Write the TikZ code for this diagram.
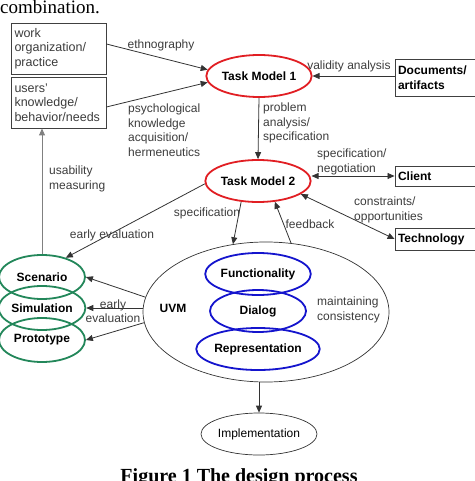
\documentclass[tikz,border=0pt]{standalone}
\usepackage{fontspec}
\setmainfont{Liberation Sans}
\newfontfamily\serifcap{Liberation Serif}
\usetikzlibrary{arrows.meta,shapes.geometric}
\definecolor{tmred}{RGB}{225,30,35}
\definecolor{uvblue}{RGB}{20,20,205}
\definecolor{scgreen}{RGB}{35,135,90}
\definecolor{lblgray}{RGB}{60,60,60}
\tikzset{
  lbl/.style={font=\fontsize{12}{14.5}\selectfont, text=lblgray, align=left, inner sep=0pt},
  boxnode/.style={draw=black!75, line width=0.9pt, inner xsep=3.5pt, inner ysep=0pt, align=left, font=\fontsize{12.5}{14.5}\selectfont, text=lblgray},
  bbox/.style={draw=black!75, line width=0.9pt, inner xsep=3pt, inner ysep=0pt, align=left, font=\bfseries\fontsize{12}{15}\selectfont},
  redell/.style={ellipse, draw=tmred, line width=1.8pt, minimum width=86pt, minimum height=42pt, inner sep=0pt, font=\bfseries\fontsize{12}{14}\selectfont},
  blueell/.style={ellipse, draw=uvblue, line width=1.8pt, minimum width=96pt, minimum height=42pt, inner sep=0pt, font=\bfseries\fontsize{12}{14}\selectfont},
  greenell/.style={ellipse, draw=scgreen, line width=1.8pt, minimum width=86pt, minimum height=44pt, inner sep=0pt, font=\bfseries\fontsize{12}{14}\selectfont},
  plainell/.style={ellipse, draw=black!80, line width=0.7pt, inner sep=0pt},
  arr/.style={draw=black!80, line width=0.8pt, -{Triangle[length=7pt,width=6pt]}},
  darr/.style={draw=black!80, line width=0.8pt, {Triangle[length=7pt,width=6pt]}-{Triangle[length=7pt,width=6pt]}},
}
\begin{document}
\begin{tikzpicture}[x=1pt,y=-1pt]
\useasboundingbox (0,0) rectangle (474,481);
% stray text
\node[anchor=base west, inner sep=0pt, font=\serifcap\fontsize{19}{19}\selectfont] (topt) at (0,14) {combination.};
\node[anchor=base, inner sep=0pt, font=\serifcap\bfseries\fontsize{20}{20}\selectfont] (cap) at (239,482) {Figure 1 The design process};
% boxes
\node[boxnode, minimum width=95pt, minimum height=51pt, text width=88pt] (work) at (58.5,48.5) {work\\organization/\\practice};
\node[boxnode, minimum width=95pt, minimum height=51pt, text width=88pt] (users) at (58.5,102.5) {users'\\knowledge/\\behavior/needs};
\node[bbox, minimum width=80pt, minimum height=37pt, text width=74pt] (docs) at (435,78) {Documents/\\artifacts};
\node[bbox, minimum width=80pt, minimum height=20pt, text width=74pt] (client) at (435,176) {Client};
\node[bbox, minimum width=80pt, minimum height=22pt, text width=74pt] (tech) at (435,239) {Technology};
% ellipses
\node[redell] (tm1) at (259,76) {Task Model 1};
\node[redell] (tm2) at (258,181) {Task Model 2};
\node[plainell, minimum width=246pt, minimum height=140pt] (uvm) at (266,312) {};
\node[font=\bfseries\fontsize{12}{14}\selectfont, inner sep=0pt] (uvml) at (173,308) {UVM};
\node[blueell] (func) at (258,274) {Functionality};
\node[blueell] (dial) at (258,311) {Dialog};
\node[blueell] (repr) at (258,349) {Representation};
\node[greenell] (scen) at (42,277) {Scenario};
\node[greenell] (sim) at (42,308) {Simulation};
\node[greenell] (proto) at (42,340) {Prototype};
\node[plainell, minimum width=100pt, minimum height=42pt, font=\fontsize{12}{14}\selectfont] (impl) at (259,434) {Implementation};
% connectors
\draw[arr] ([yshift=4.5pt]work.east) -- (tm1.173);
\draw[arr] ([yshift=-4.5pt]users.east) -- (tm1.187);
\draw[arr] (docs.west |- tm1.east) -- (tm1.east);
\draw[arr] (tm1.south) -- (tm2.north);
\draw[darr] (tm2.east |- client.west) -- (client.west);
\draw[darr] (tm2.-17) -- (tech.west);
\draw[arr] (tm2.-129) -- (uvm.116);
\draw[arr] (uvm.70) -- (tm2.-51);
\draw[arr] (tm2.183) -- (scen.39);
\draw[arr] (uvm.173) -- (scen.east);
\draw[arr] (uvm.west |- sim.east) -- (sim.east);
\draw[arr] (uvm.185) -- (proto.east);
\draw[draw=black!50, line width=0.9pt, -{Triangle[length=7pt,width=6pt]}] (scen.north) -- (scen.north |- users.south);
\draw[arr] (impl.north |- uvm.south) -- (impl.north);
% labels
\node[lbl] (l1) at (161,45) {ethnography};
\node[lbl, anchor=west] (l2) at (128,130) {psychological\\knowledge\\acquisition/\\hermeneutics};
\node[lbl] (l3) at (349,66) {validity analysis};
\node[lbl, anchor=west] (l4) at (263,123) {problem\\analysis/\\specification};
\node[lbl, anchor=west] (l5) at (317,162) {specification/\\negotiation};
\node[lbl, anchor=west] (l6) at (354,210) {constraints/\\opportunities};
\node[lbl] (l7) at (310,224) {feedback};
\node[lbl] (l8) at (207,213) {specification};
\node[lbl] (l9) at (112,235) {early evaluation};
\node[lbl, anchor=west] (l10) at (49,179) {usability\\measuring};
\node[lbl, align=center] (l11) at (113,311) {early\\evaluation};
\node[lbl, anchor=west] (l12) at (317,310) {maintaining\\consistency};
\end{tikzpicture}
\end{document}
